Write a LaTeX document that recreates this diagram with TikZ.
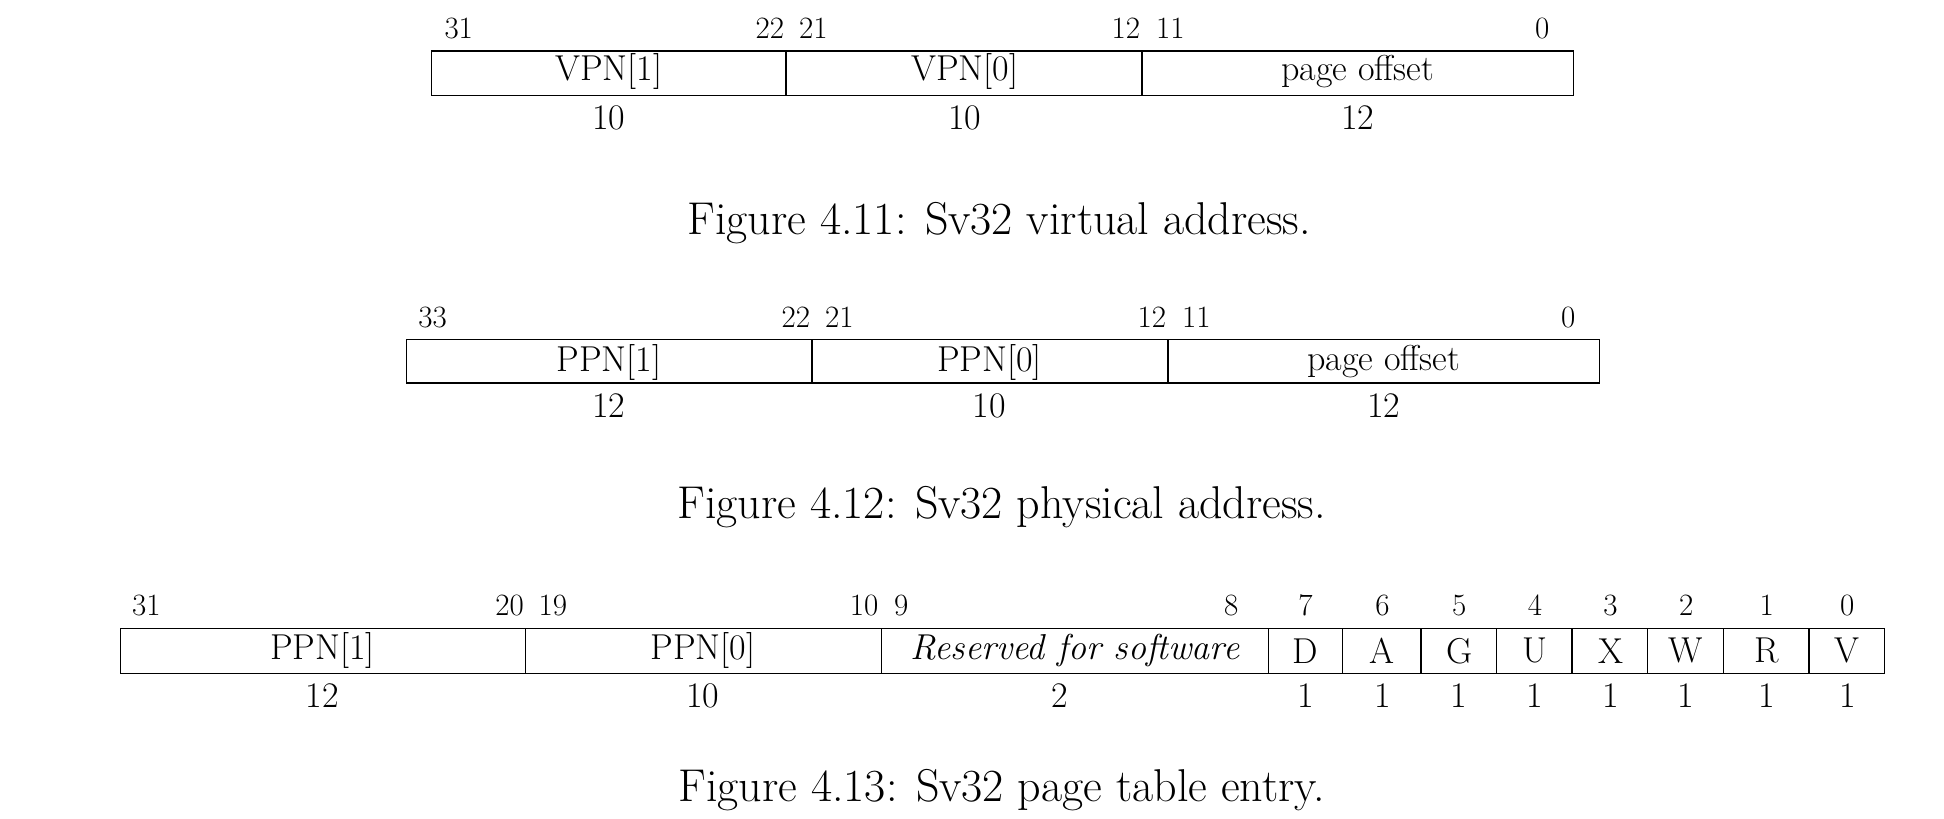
\documentclass[tikz,border=0pt]{standalone}
\begin{document}
\begin{tikzpicture}[x=0.62pt,y=-0.62pt,
  boxline/.style={line width=0.7pt},
  bit/.style={font=\fontsize{15.5}{18}\selectfont},
  wid/.style={font=\fontsize{18}{21}\selectfont},
  captext/.style={font=\fontsize{23}{27}\selectfont}]
\useasboundingbox (0,0) rectangle (1568,660);
% Fig 4.11
\draw[boxline] (348,41) rectangle (1269,77);
\draw[boxline] (634,41) -- (634,77) (921,41) -- (921,77);
\node[wid] (v1) at (491,58) {VPN[1]};
\node[wid] (v0) at (778,58) {VPN[0]};
\node[wid] (vo) at (1095,58) {page offset};
\foreach \t/\x in {31/370,22/621,21/656,12/908,11/944,0/1244}
  \node[bit] at (\x,23) {\t};
\node[wid] at (491,95) {10};
\node[wid] at (778,95) {10};
\node[wid] at (1095,95) {12};
\node[captext] (c1) at (806,180) {Figure 4.11: Sv32 virtual address.};
% Fig 4.12
\draw[boxline] (328,274) rectangle (1290,309);
\draw[boxline] (655,274) -- (655,309) (942,274) -- (942,309);
\node[wid] (p1) at (491,292) {PPN[1]};
\node[wid] (p0) at (798,292) {PPN[0]};
\node[wid] (po) at (1116,292) {page offset};
\foreach \t/\x in {33/349,22/642,21/677,12/929,11/965,0/1265}
  \node[bit] at (\x,256) {\t};
\node[wid] at (491,327) {12};
\node[wid] at (798,327) {10};
\node[wid] at (1116,327) {12};
\node[captext] (c2) at (808,409) {Figure 4.12: Sv32 physical address.};
% Fig 4.13
\draw[boxline] (97,507) rectangle (1520,543);
\foreach \x in {424,711,1023,1083,1146,1207,1268,1329,1390,1459}
  \draw[boxline] (\x,507) -- (\x,543);
\node[wid] (e1) at (260,525) {PPN[1]};
\node[wid] (e0) at (567,525) {PPN[0]};
\node[wid] (er) at (867,525) {\itshape Reserved for software};
\foreach \l/\c in {D/1053,A/1115,G/1177,U/1238,X/1299,W/1360,R/1425,V/1490}{
  \node[wid] at (\c,525) {\l};
  \node[wid] at (\c,561) {1};}
\foreach \t/\x in {31/118,20/411,19/446,10/697,9/727,8/993,7/1053,6/1115,5/1177,4/1238,3/1299,2/1360,1/1425,0/1490}
  \node[bit] at (\x,488) {\t};
\node[wid] at (260,561) {12};
\node[wid] at (567,561) {10};
\node[wid] at (855,561) {2};
\node[captext] (c3) at (808,637) {Figure 4.13: Sv32 page table entry.};
\end{tikzpicture}
\end{document}
